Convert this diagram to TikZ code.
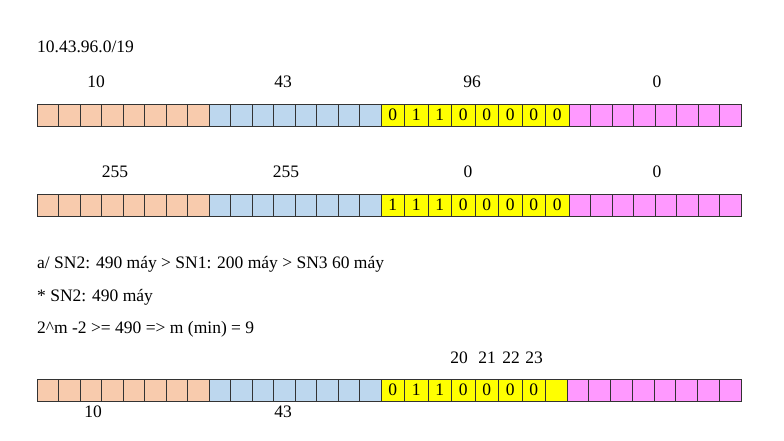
\documentclass[tikz,border=0pt]{standalone}
\usepackage{fontspec}
\setmainfont{Liberation Serif}
\definecolor{peach}{HTML}{F8CBAD}
\definecolor{lblue}{HTML}{BDD7EE}
\definecolor{yel}{HTML}{FFFF00}
\definecolor{mag}{HTML}{FF99FF}
\begin{document}
\begin{tikzpicture}[x=1pt,y=-1pt,cell/.style={draw=black!80,line width=0.8pt},
 txt/.style={font=\fontsize{17.5}{20}\selectfont,inner sep=0pt,text=black},lab/.style={txt,anchor=base west}]
\useasboundingbox (0,0) rectangle (784,441);
% row 1
\foreach \i in {0,...,7}{\fill[peach,cell] (37+\i*21.5,104) rectangle ++(21.5,22);}
\foreach \i in {0,...,7}{\fill[lblue,cell] (209+\i*21.5,104) rectangle ++(21.5,22);}
\foreach \i/\b in {0/0,1/1,2/1,3/0,4/0,5/0,6/0,7/0}{\fill[yel,cell] (381+\i*23.5,104) rectangle ++(23.5,22) node[txt,midway]{\b};}
\foreach \i in {0,...,7}{\fill[mag,cell] (569+\i*21.5,104) rectangle ++(21.5,22);}
% row 2
\foreach \i in {0,...,7}{\fill[peach,cell] (37+\i*21.5,194) rectangle ++(21.5,22);}
\foreach \i in {0,...,7}{\fill[lblue,cell] (209+\i*21.5,194) rectangle ++(21.5,22);}
\foreach \i/\b in {0/1,1/1,2/1,3/0,4/0,5/0,6/0,7/0}{\fill[yel,cell] (381+\i*23.5,194) rectangle ++(23.5,22) node[txt,midway]{\b};}
\foreach \i in {0,...,7}{\fill[mag,cell] (569+\i*21.5,194) rectangle ++(21.5,22);}
% row 3
\foreach \i in {0,...,7}{\fill[peach,cell] (37+\i*21.5,379) rectangle ++(21.5,22);}
\foreach \i in {0,...,7}{\fill[lblue,cell] (209+\i*21.5,379) rectangle ++(21.5,22);}
\foreach \i/\b in {0/0,1/1,2/1,3/0,4/0,5/0,6/0}{\fill[yel,cell] (381+\i*23.5,379) rectangle ++(23.5,22) node[txt,midway]{\b};}
\fill[yel,cell] (545.5,379) rectangle (567,401);
\foreach \i in {0,...,7}{\fill[mag,cell] (567+\i*21.75,379) rectangle ++(21.75,22);}
% texts
\node[lab] (t0) at (37,53) {10.43.96.0/19};
\node[txt] (a1) at (96,82) {10};
\node[txt] (a2) at (283,82) {43};
\node[txt] (a3) at (472,82) {96};
\node[txt] (a4) at (657,82) {0};
\node[txt] (b1) at (115,172) {255};
\node[txt] (b2) at (286,172) {255};
\node[txt] (b3) at (468,172) {0};
\node[txt] (b4) at (657,172) {0};
\node[lab] (l1) at (37,268) {a/ SN2: 490 máy > SN1: 200 máy > SN3 60 máy};
\node[lab] (l2) at (37,301) {* SN2: 490 máy};
\node[lab] (l3) at (37,333) {2\^{}m -2 >= 490 => m (min) = 9};
\node[txt] (c1) at (459,358) {20};
\node[txt] (c2) at (487,358) {21};
\node[txt] (c3) at (511,358) {22};
\node[txt] (c4) at (534,358) {23};
\node[txt] (d1) at (93,412) {10};
\node[txt] (d2) at (283,412) {43};
\end{tikzpicture}
\end{document}
